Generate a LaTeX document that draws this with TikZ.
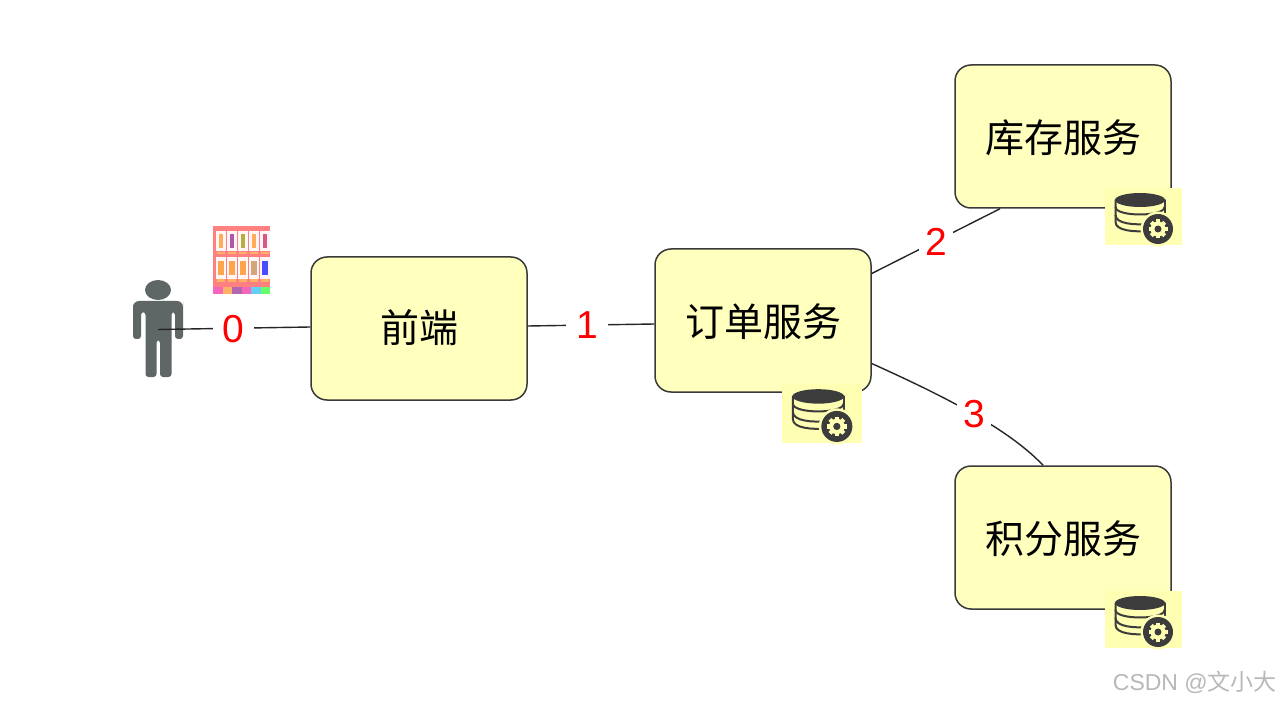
\documentclass[tikz,border=0pt]{standalone}
\usepackage{fontspec}
\setmainfont{Liberation Sans}
\newfontfamily\cjk{Noto Sans CJK SC}
\definecolor{boxfill}{HTML}{FFFFBE}
\definecolor{iconfill}{HTML}{FFFFB4}
\definecolor{boxline}{HTML}{3A3A3A}
\definecolor{mangray}{HTML}{5F6666}
\definecolor{icondark}{HTML}{3C3C3C}
\newcommand{\dbicon}[3]{%
  \begin{scope}[shift={(#1,#2)},scale=#3]
    \fill[iconfill] (0,0) rectangle (77,57);
    \draw[icondark,line width=2pt,line cap=round] (10.5,12) -- (10.5,34) .. controls (10.5,43) and (30,44) .. (42,43);
    \draw[icondark,line width=2pt,line cap=round] (10.5,19) .. controls (10.5,29) and (59.5,29) .. (59.5,19);
    \draw[icondark,line width=2pt,line cap=round] (10.5,27) .. controls (10.5,36) and (30,37) .. (42,36);
    \draw[icondark,line width=2pt,line cap=round] (59.5,12) -- (59.5,25);
    \fill[icondark] (35,12) ellipse[x radius=25,y radius=7];
    \fill[iconfill] (53,41) circle[radius=17.5];
    \fill[icondark] (53,41) circle[radius=15];
    \fill[iconfill] (53,41) circle[radius=7.5];
    \foreach \a in {0,45,...,315}{\fill[iconfill,rotate around={\a:(53,41)}] (51,31.5) rectangle (55,35);}
    \fill[icondark] (53,41) circle[radius=3.5];
  \end{scope}}
\tikzset{
  svcbox/.style={draw=boxline,line width=1.5pt,fill=boxfill,rounded corners=16pt,minimum width=216pt,minimum height=143pt,inner sep=0pt},
  svctext/.style={font=\cjk\fontsize{39}{42}\selectfont,text=black,inner sep=0pt},
  numlabel/.style={fill=white,text=red,font=\fontsize{39}{42}\selectfont,inner xsep=10pt,inner ysep=2pt,text depth=1pt},
  link/.style={line width=1.4pt,draw=black!85},
  markfont/.style={text=black!28,font=\fontsize{23}{25}\selectfont,inner sep=0pt}
}
\begin{document}
\begin{tikzpicture}[x=1pt,y=-1pt]
\useasboundingbox (0,0) rectangle (1280,703);
\fill[white] (0,0) rectangle (1280,703);
% person
\fill[mangray] (158,290) ellipse[x radius=13,y radius=10];
\fill[mangray,rounded corners=3pt] (133,339) -- (133,308) [rounded corners=6pt] -- (133,301) -- (183,301) -- (183,308) [rounded corners=3pt] -- (183,339) -- (175,339) -- (175,312) -- (171.5,312) -- (171.5,377) -- (160,377) -- (160,340) -- (156.5,340) -- (156.5,377) -- (145.5,377) -- (145.5,312) -- (141,312) -- (141,339) -- cycle;
\coordinate (man) at (158,329.5);
% thumbnail
\fill[red!50!white] (213,226) rectangle (270,294);
\foreach \i/\ca/\cb in {0/orange/orange,1/violet/orange,2/olive/orange,3/orange/brown,4/purple/blue}{
  \fill[white!88!pink] (216+\i*11,231) rectangle ++(9.5,20);
  \fill[\ca!65!white] (218.5+\i*11,234) rectangle ++(4.5,14);
  \fill[orange!60!white] (217+\i*11,252) rectangle ++(8,2.5);
  \fill[white!88!pink] (216+\i*11,257) rectangle ++(9.5,22);
  \fill[\cb!70!white] (218+\i*11,261) rectangle ++(6,14);
  \fill[orange!60!white] (217+\i*11,279) rectangle ++(8,3);
}
\foreach \i/\c in {0/magenta,1/orange,2/violet,3/magenta,4/cyan,5/green}{
  \fill[\c!60!white] (213+\i*9.5,287) rectangle ++(9.5,7);
}
% boxes
\node[svcbox] (fe) at (419,328.5) {};
\node[svcbox] (os) at (763,320.5) {};
\node[svcbox] (kc) at (1063,136.5) {};
\node[svcbox] (jf) at (1063,537.5) {};
\node[svctext] (fetext) at (419,327.5) {前端};
\node[svctext] (ostext) at (763,322) {订单服务};
\node[svctext] (kctext) at (1063,138) {库存服务};
\node[svctext] (jftext) at (1063,539) {积分服务};
% connectors
\draw[link] (man) -- node[numlabel,pos=.495,yshift=-1pt] (n0) {0} ([yshift=1.5pt]fe.west);
\draw[link] ([yshift=2.5pt]fe.east) -- node[numlabel,pos=.47,yshift=-.5pt] (n1) {1} ([yshift=-3.5pt]os.west);
\draw[link] ([yshift=47pt]os.east) -- node[numlabel,pos=.5,inner xsep=6pt,inner ysep=1pt,yshift=-1.5pt] (n2) {2} ([xshift=-63pt]kc.south);
\draw[link] ([yshift=-43pt]os.east) .. controls (930,390) and (1005,425) .. node[numlabel,pos=.55,inner xsep=6pt,inner ysep=1pt] (n3) {3} ([xshift=-20pt]jf.north);
% database icons
\dbicon{782}{384}{1.035}
\dbicon{1105}{188}{1}
\dbicon{1105}{591}{1}
% watermark
\node[markfont,anchor=east] (wm) at (1277,682) {CSDN @{\cjk 文小大}};
\end{tikzpicture}
\end{document}
